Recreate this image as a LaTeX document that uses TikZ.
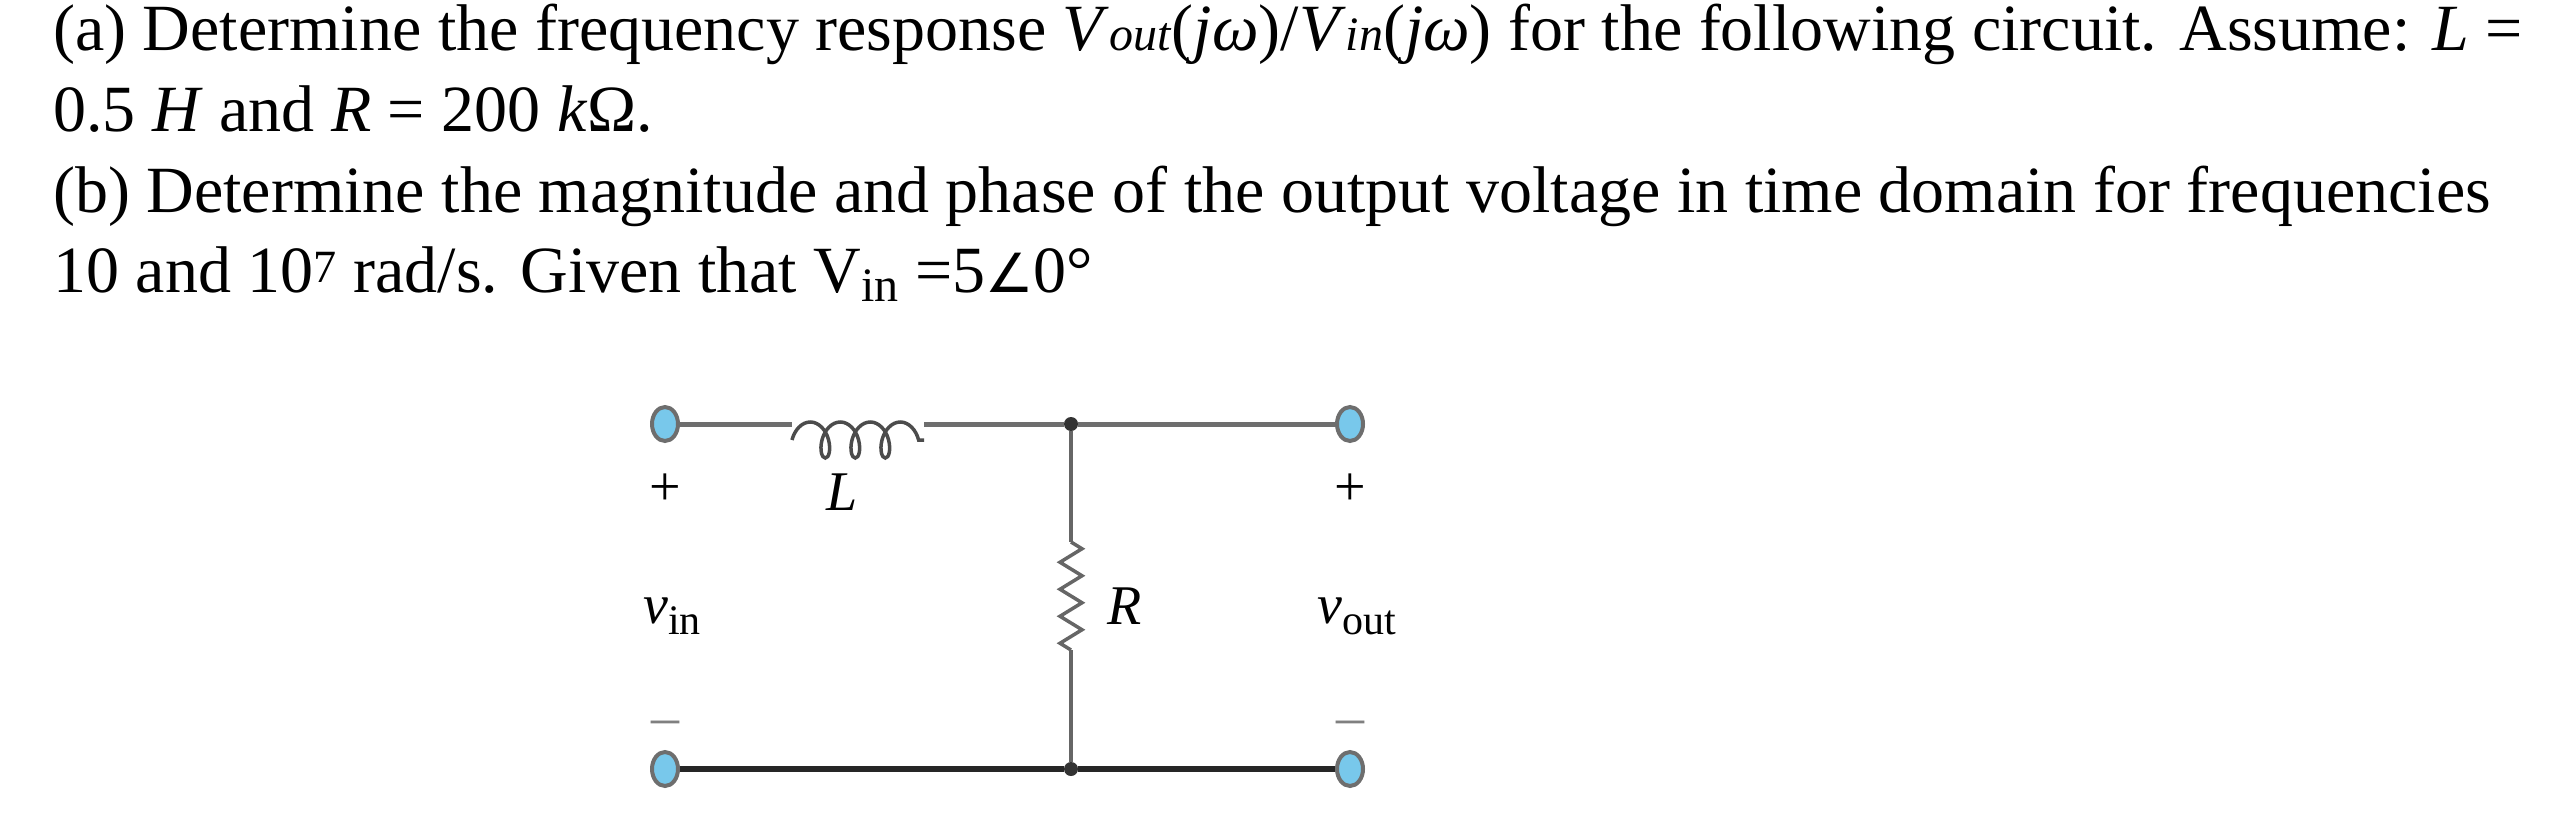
\documentclass[tikz,border=0pt]{standalone}
\usepackage{fontspec}
\setmainfont{Liberation Serif}
\newfontfamily\djv{DejaVu Sans}
\usetikzlibrary{decorations.pathmorphing,shapes.geometric}
\definecolor{term}{RGB}{120,200,235}
\definecolor{wire}{RGB}{110,110,110}
\begin{document}
\begin{tikzpicture}[x=1pt,y=-1pt,
  txt/.style={anchor=base west,inner sep=0pt,font=\fontsize{66}{80}\selectfont},
  lbl/.style={inner sep=0pt,font=\fontsize{56}{56}\selectfont},
  term/.style={ellipse,draw=wire,line width=4pt,fill=term,minimum width=26pt,minimum height=34pt,inner sep=0pt},
  dot/.style={circle,fill=black!80,minimum size=14pt,inner sep=0pt},
  w/.style={draw=wire,line width=5pt},
  wt/.style={draw=black!60,line width=3.5pt}]
\useasboundingbox (0,0) rectangle (2576,830);
\node[txt] (l1) at (53,50) {(a) Determine the frequency response \textit{V}{\fontsize{48}{48}\selectfont\textit{out}}(\textit{jω})/\textit{V}{\fontsize{48}{48}\selectfont\textit{in}}(\textit{jω}) for the following circuit. Assume: \textit{L} =};
\node[txt] (l2) at (53,131) {0.5 \textit{H} and \textit{R} = 200 \textit{k}Ω.};
\node[txt] (l3) at (53,212) {(b) Determine the magnitude and phase of the output voltage in time domain for frequencies};
\node[txt] (l4) at (53,292) {10 and 10\textsuperscript{7} rad/s. Given that V\raisebox{-0.15em}{\fontsize{48}{48}\selectfont in} =5{\djv\fontsize{54}{54}\selectfont ∠}0°};
% circuit
\node[term] (a) at (665,424) {};
\node[term] (b) at (665,769) {};
\node[term] (c) at (1350,424) {};
\node[term] (d) at (1350,769) {};
\node[dot] (j1) at (1071,424) {};
\node[dot] (j2) at (1071,769) {};
\coordinate (i1) at (792,424);
\coordinate (i2) at (924,424);
\coordinate (r1) at (1071,542);
\coordinate (r2) at (1071,650);
\draw[w] (a) -- (i1);
\draw[w] (i2) -- (j1) -- (c);
\draw[draw=black!70,line width=3.5pt,decorate,decoration={coil,aspect=0.6,segment length=30pt,amplitude=18pt,pre length=0pt,post length=0pt}] ([yshift=-16pt]i1) -- ([yshift=-16pt]i2);
\draw[wt] (j1) -- (r1);
\draw[wt,decorate,decoration={zigzag,segment length=27pt,amplitude=11pt}] (r1) -- (r2);
\draw[wt] (r2) -- (j2);
\draw[draw=black!85,line width=6pt] (b) -- (j2) -- (d);
\node[lbl] (pl) at (665,490) {+};
\node[lbl] (pr) at (1350,490) {+};
\node[lbl,text=gray] (ml) at (665,728) {–};
\node[lbl,text=gray] (mr) at (1350,728) {–};
\node[lbl] (L) at (842,492) {\textit{L}};
\node[lbl] (R) at (1125,606) {\textit{R}};
\node[lbl] (vin) at (672,616) {\textit{v}\raisebox{-0.2em}{\fontsize{42}{42}\selectfont in}};
\node[lbl] (vout) at (1357,616) {\textit{v}\raisebox{-0.2em}{\fontsize{42}{42}\selectfont out}};
\end{tikzpicture}
\end{document}
